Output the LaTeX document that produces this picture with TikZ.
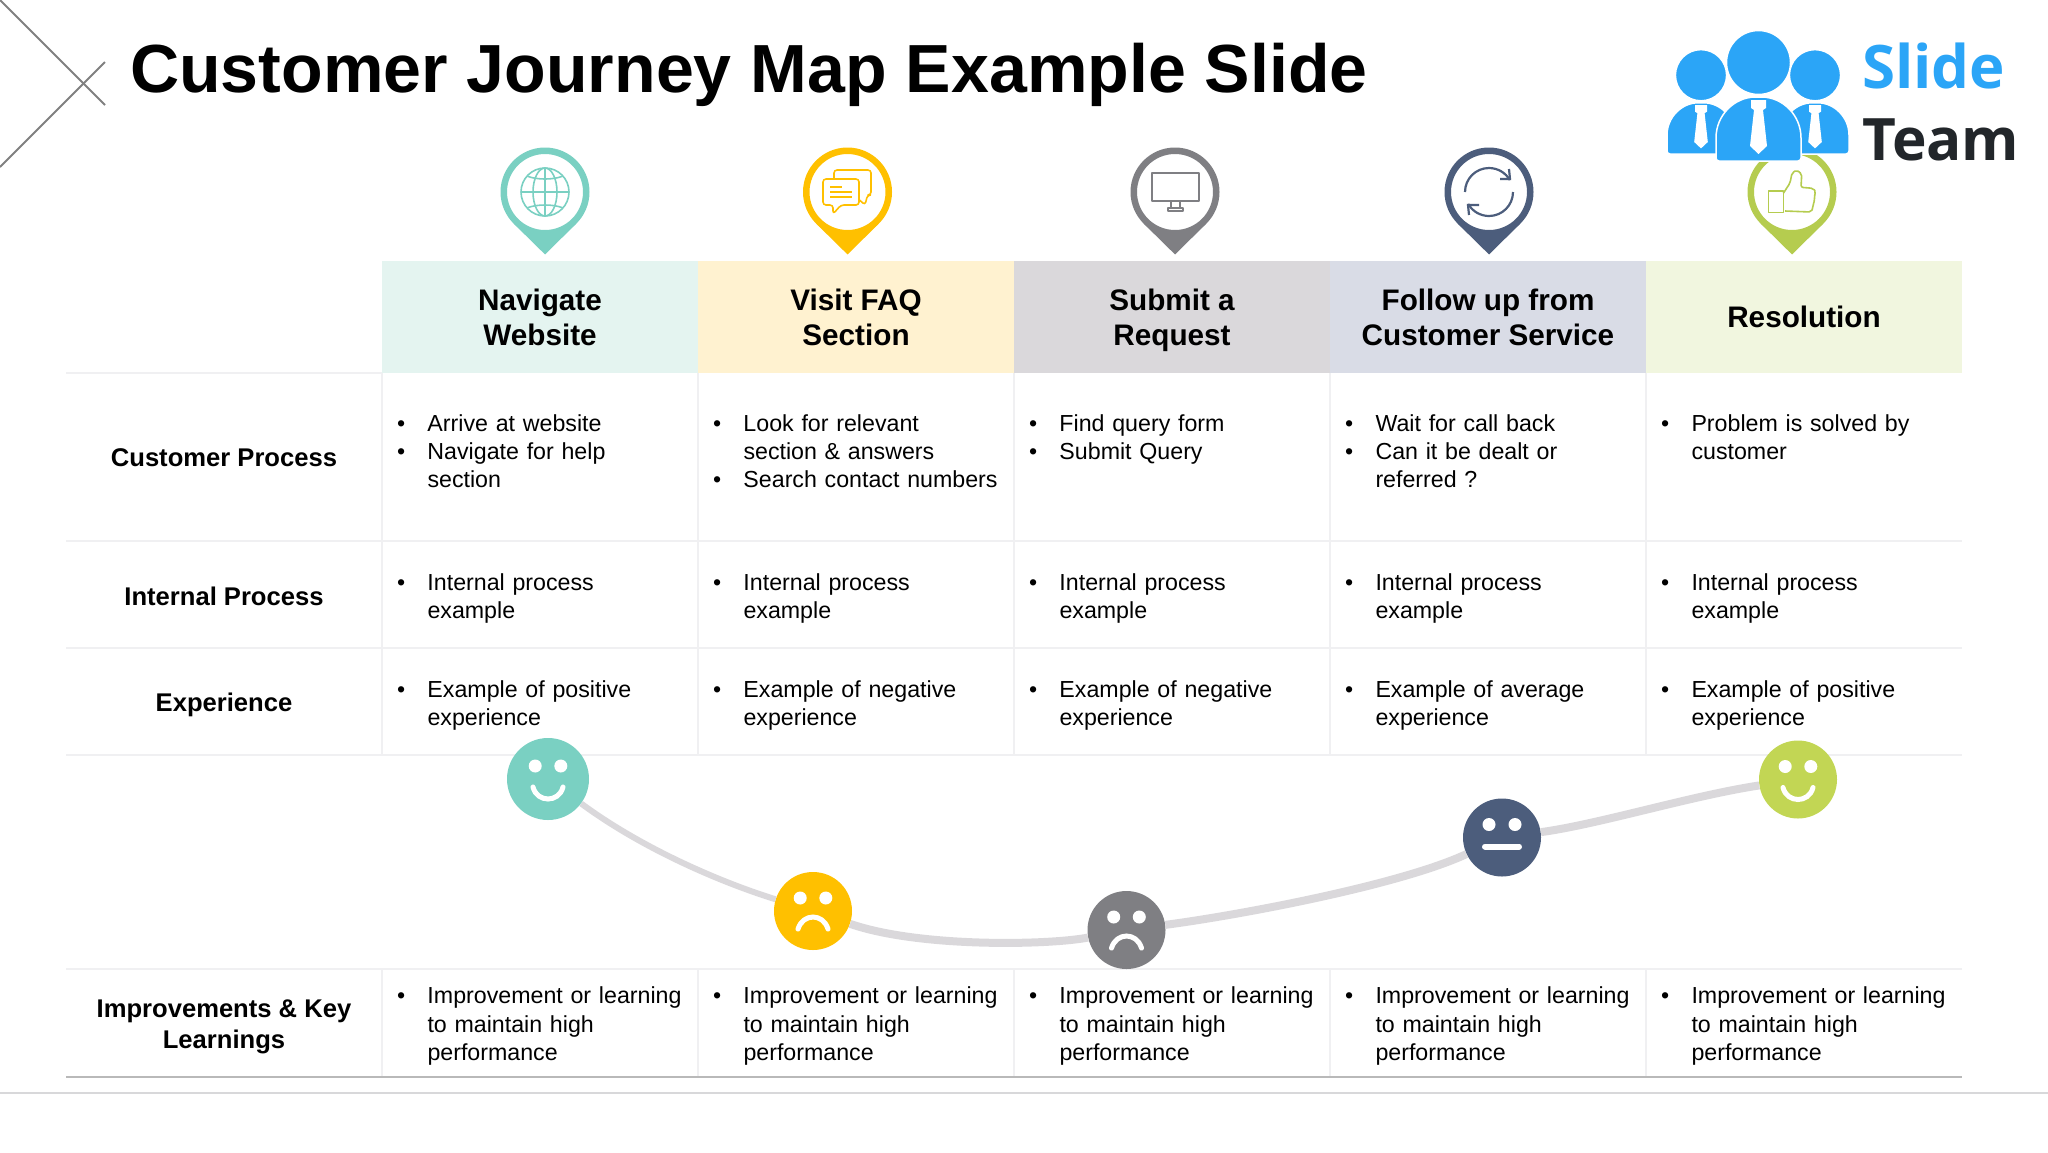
\documentclass[tikz,border=0pt]{standalone}
\usepackage{fontspec}
\setmainfont{Liberation Sans}
\newfontfamily\logofont{Open Sans}
\usetikzlibrary{backgrounds,positioning}

\definecolor{tealmark}{HTML}{7AD0C2}
\definecolor{goldmark}{HTML}{FFC000}
\definecolor{greymark}{HTML}{7F7F83}
\definecolor{navymark}{HTML}{4C5D7C}
\definecolor{limemark}{HTML}{C2D654}
\definecolor{limepin}{HTML}{B5CC4F}
\definecolor{tealpale}{HTML}{E4F4F0}
\definecolor{goldpale}{HTML}{FFF2D0}
\definecolor{greypale}{HTML}{DAD8DB}
\definecolor{navypale}{HTML}{D9DCE6}
\definecolor{limepale}{HTML}{F1F6DF}
\definecolor{gridgrey}{HTML}{F0F0F2}
\definecolor{logoblue}{HTML}{2BA5F7}
\definecolor{logodark}{HTML}{22262A}

\newcommand{\bul}[1]{\hangindent=45.5pt\hangafter=1\noindent\hspace*{15pt}\makebox[30.5pt][l]{\textbullet}#1\par}

\tikzset{
  pics/happy/.style={code={
    \fill[white] (-12.8,-13) circle[radius=6.5] (12.8,-13) circle[radius=6.5];
    \draw[white,line width=5,line cap=round] (-15,8) .. controls (-11,24) and (11,24) .. (15,8);
  }},
  pics/sad/.style={code={
    \fill[white] (-12.8,-13) circle[radius=6.5] (12.8,-13) circle[radius=6.5];
    \draw[white,line width=5,line cap=round] (-15,18) .. controls (-10,2) and (10,2) .. (15,18);
  }},
  pics/flat/.style={code={
    \fill[white] (-13,-13) circle[radius=6.5] (13,-13) circle[radius=6.5];
    \draw[white,line width=6,line cap=round] (-17,9) -- (17,9);
  }},
  pics/teamman/.style={code={
    \fill[logoblue,draw=white,line width=1.5] (0,-98.5) circle[radius=32];
    \fill[logoblue,draw=white,line width=1.5,rounded corners=3] (-42.5,0) -- (-42.5,-20)
      .. controls (-42.5,-46) and (-24,-64) .. (0,-64)
      .. controls (24,-64) and (42.5,-46) .. (42.5,-20) -- (42.5,0) -- cycle;
    \fill[white] (-7.5,-61) -- (7.5,-61) -- (7.5,-53) -- (4.5,-51) -- (8.5,-15) -- (0,-7)
      -- (-8.5,-15) -- (-4.5,-51) -- (-7.5,-53) -- cycle;
  }}
}

\begin{document}
\begin{tikzpicture}
  [x=1pt,y=-1pt,
   stagebox/.style={text width=316pt,inner sep=0pt,outer sep=0pt,align=flush center,
     font=\fontsize{29.7}{35.5}\selectfont\bfseries,text height=49pt,text depth=63pt},
   rowname/.style={text width=316pt,inner sep=0pt,outer sep=0pt,align=flush center,
     font=\fontsize{25.6}{31.3}\selectfont\bfseries},
   cell/.style={text width=316pt,inner sep=0pt,outer sep=0pt,align=left,
     font=\fontsize{23.2}{28.3}\selectfont},
   rowa/.style={cell,text height=58pt,text depth=110pt},
   rowb/.style={cell,text height=49pt,text depth=58pt},
   rowc/.style={cell,text height=34.7pt,text depth=73.3pt},
   pinhead/.style={circle,fill=white,line width=6.5pt,minimum size=82.5pt,inner sep=0pt},
   facedot/.style={circle,minimum size=78pt,inner sep=0pt},
   gridline/.style={gridgrey,line width=1.3pt},
   moodcurve/.style={greypale,line width=8pt},
   crossline/.style={gray,line width=2pt},
   glyph/.style={line width=1.6pt,line join=round}]

  \useasboundingbox (0,0) rectangle (2048,1152);

  \coordinate (crossa) at (0,0);
  \coordinate (crossb) at (105,105);
  \coordinate (crossc) at (0,167);
  \coordinate (crossd) at (105,62);
  \draw[crossline] (crossa) -- (crossb);
  \draw[crossline] (crossc) -- (crossd);

  \node[anchor=base west,inner sep=0pt,font=\fontsize{68.1}{70}\selectfont\bfseries] (title) at (130,92)
    {Customer Journey Map Example Slide};

  \node[stagebox,fill=tealpale,anchor=north west] (head1) at (382,261) {Navigate\\Website};
  \node[stagebox,fill=goldpale] (head2) [right=0pt of head1] {Visit FAQ\\Section};
  \node[stagebox,fill=greypale] (head3) [right=0pt of head2] {Submit a\\Request};
  \node[stagebox,fill=navypale] (head4) [right=0pt of head3] {Follow up from\\Customer Service};
  \node[stagebox,fill=limepale,text height=66.7pt,text depth=45.3pt] (head5) [right=0pt of head4] {Resolution};

  \node[rowname,text height=93.7pt,text depth=74.3pt] (custname) [below left=0pt and 0pt of head1.south west] {Customer Process};
  \node[rowname,text height=64pt,text depth=43pt]     (intname)  [below=0pt of custname] {Internal Process};
  \node[rowname,text height=63.7pt,text depth=43.3pt] (expname)  [below=0pt of intname]  {Experience};
  \node[rowname,text height=48.4pt,text depth=59.6pt] (impname)  [below=214pt of expname] {Improvements \& Key\\Learnings};

  \node[rowa] (cust1) [right=0pt of custname] {\bul{Arrive at website}\bul{Navigate for help\newline section}};
  \node[rowa] (cust2) [right=0pt of cust1] {\bul{Look for relevant\newline section \& answers}\bul{Search contact numbers}};
  \node[rowa] (cust3) [right=0pt of cust2] {\bul{Find query form}\bul{Submit Query}};
  \node[rowa] (cust4) [right=0pt of cust3] {\bul{Wait for call back}\bul{Can it be dealt or\newline referred ?}};
  \node[rowa] (cust5) [right=0pt of cust4] {\bul{Problem is solved by\newline customer}};

  \node[rowb] (int1) [right=0pt of intname] {\bul{Internal process\newline example}};
  \node[rowb] (int2) [right=0pt of int1] {\bul{Internal process\newline example}};
  \node[rowb] (int3) [right=0pt of int2] {\bul{Internal process\newline example}};
  \node[rowb] (int4) [right=0pt of int3] {\bul{Internal process\newline example}};
  \node[rowb] (int5) [right=0pt of int4] {\bul{Internal process\newline example}};

  \node[rowb] (exp1) [right=0pt of expname] {\bul{Example of positive\newline experience}};
  \node[rowb] (exp2) [right=0pt of exp1] {\bul{Example of negative\newline experience}};
  \node[rowb] (exp3) [right=0pt of exp2] {\bul{Example of negative\newline experience}};
  \node[rowb] (exp4) [right=0pt of exp3] {\bul{Example of average\newline experience}};
  \node[rowb] (exp5) [right=0pt of exp4] {\bul{Example of positive\newline experience}};

  \node[rowc] (imp1) [right=0pt of impname] {\bul{Improvement or learning\newline to maintain high\newline performance}};
  \node[rowc] (imp2) [right=0pt of imp1] {\bul{Improvement or learning\newline to maintain high\newline performance}};
  \node[rowc] (imp3) [right=0pt of imp2] {\bul{Improvement or learning\newline to maintain high\newline performance}};
  \node[rowc] (imp4) [right=0pt of imp3] {\bul{Improvement or learning\newline to maintain high\newline performance}};
  \node[rowc] (imp5) [right=0pt of imp4] {\bul{Improvement or learning\newline to maintain high\newline performance}};

  \draw[gridline] (custname.north west) -- (custname.north east);
  \draw[gridline] (custname.south west) -- (cust5.south east);
  \draw[gridline] (intname.south west)  -- (int5.south east);
  \draw[gridline] (expname.south west)  -- (exp5.south east);
  \draw[gridline] (impname.north west)  -- (imp5.north east);
  \draw[gridline] (cust1.north west) -- (exp1.south west);
  \draw[gridline] (cust2.north west) -- (exp2.south west);
  \draw[gridline] (cust3.north west) -- (exp3.south west);
  \draw[gridline] (cust4.north west) -- (exp4.south west);
  \draw[gridline] (cust5.north west) -- (exp5.south west);
  \draw[gridline] (imp1.north west) -- (imp1.south west);
  \draw[gridline] (imp2.north west) -- (imp2.south west);
  \draw[gridline] (imp3.north west) -- (imp3.south west);
  \draw[gridline] (imp4.north west) -- (imp4.south west);
  \draw[gridline] (imp5.north west) -- (imp5.south west);
  \draw[gray!55,line width=2pt] (impname.south west) -- (imp5.south east);

  \coordinate (slideleft)  at (0,1093);
  \coordinate (slideright) at (2048,1093);
  \draw[gridgrey!90!black,line width=1.5pt] (slideleft) -- (slideright);

  \node[pinhead,draw=tealmark] (pin1) at (545,192)    {};
  \node[pinhead,draw=goldmark] (pin2) at (847.5,192)  {};
  \node[pinhead,draw=greymark] (pin3) at (1175,192)   {};
  \node[pinhead,draw=navymark] (pin4) at (1489,192)   {};
  \node[pinhead,draw=limepin]  (pin5) at (1792,192)   {};

  \begin{scope}[on background layer]
    \fill[tealmark] (pin1.225) -- ++(31.5,31) -- (pin1.315) -- cycle;
    \fill[goldmark] (pin2.225) -- ++(31.5,31) -- (pin2.315) -- cycle;
    \fill[greymark] (pin3.225) -- ++(31.5,31) -- (pin3.315) -- cycle;
    \fill[navymark] (pin4.225) -- ++(31.5,31) -- (pin4.315) -- cycle;
    \fill[limepin]  (pin5.225) -- ++(31.5,31) -- (pin5.315) -- cycle;
  \end{scope}

  \begin{scope}[shift={(545,192)},glyph,draw=tealmark]
    \draw (0,0) circle[radius=24];
    \draw (0,0) ellipse[x radius=12,y radius=24];
    \draw (0,-24) -- (0,24);
    \draw (-24,0) -- (24,0);
    \draw (-18,-16) .. controls (-9,-12) and (9,-12) .. (18,-16);
    \draw (-18,16) .. controls (-9,12) and (9,12) .. (18,16);
  \end{scope}

  \begin{scope}[shift={(847.5,192)},glyph,draw=goldmark]
    \draw[rounded corners=3] (-13.5,-13) -- (-13.5,-22) -- (23.5,-22) -- (23.5,3) -- (20,3) -- (17.5,13) -- (12,8);
    \draw[rounded corners=3] (-24.5,-13) -- (11.5,-13) -- (11.5,13) -- (-6.5,13) -- (-14.5,22) -- (-14.5,13) -- (-24.5,13) -- cycle;
    \draw (-17.5,-5) -- (-5.5,-5);
    \draw (-17.5,0) -- (4.5,0);
    \draw (-17.5,5) -- (4.5,5);
  \end{scope}

  \begin{scope}[shift={(1175,192)},glyph,draw=greymark]
    \draw (-23,-19) rectangle (24,9);
    \draw (-4,9) -- (-4,16) (5,9) -- (5,16);
    \draw (-7,16) rectangle (8,19);
  \end{scope}

  \begin{scope}[shift={(1489,192)},navymark,line width=2.2pt]
    \draw (-24,0) arc[start angle=180,end angle=30,radius=24pt];
    \draw (11,-13) -- (21,-13) -- (20,-23);
    \draw (24,0) arc[start angle=0,end angle=-150,radius=24pt];
    \draw (-10,13) -- (-21,13) -- (-20,23);
  \end{scope}

  \begin{scope}[shift={(1792,192)},glyph,draw=limepin]
    \draw (-23.7,-1.3) rectangle (-8.7,20.3);
    \draw[rounded corners=2] (-8.7,1.3) -- (-2,-9) -- (0,-19) -- (4.7,-22) -- (9.7,-18) -- (9,-4.7) -- (21,-3.7) -- (24,0)
      -- (22,4) -- (23,8) -- (21,12) -- (21,16) -- (19,20) -- (-7,19);
  \end{scope}

  \pic[scale=.8] at (1701,154) {teamman};
  \pic[scale=.8] at (1815,154) {teamman};
  \pic at (1758.5,161) {teamman};
  \node[anchor=base west,inner sep=0pt,text=logoblue,font=\fontsize{60}{60}\logofont\bfseries] (logoa) at (1862,88) {Slide};
  \node[anchor=base west,inner sep=0pt,text=logodark,font=\fontsize{58.5}{60}\logofont\bfseries] (logob) at (1862,160) {Team};

  \node[facedot,fill=tealmark,minimum size=82pt] (face1) at (548,779) {};
  \node[facedot,fill=goldmark] (face2) at (813,911)    {};
  \node[facedot,fill=greymark] (face3) at (1126.5,930) {};
  \node[facedot,fill=navymark] (face4) at (1502,837.5) {};
  \node[facedot,fill=limemark] (face5) at (1798,779.5) {};

  \pic at (face1) {happy};
  \pic at (face2) {sad};
  \pic at (face3) {sad};
  \pic at (face4) {flat};
  \pic at (face5) {happy};

  \draw[moodcurve,line width=6pt] (face1) .. controls (640,847) and (717,881) .. (face2);
  \draw[moodcurve] (face2) .. controls (920,948) and (1050,945) .. (face3);
  \draw[moodcurve] (face3) .. controls (1240,915) and (1400,885) .. (face4);
  \draw[moodcurve] (face4) .. controls (1600,824) and (1690,796) .. (face5);
\end{tikzpicture}
\end{document}
